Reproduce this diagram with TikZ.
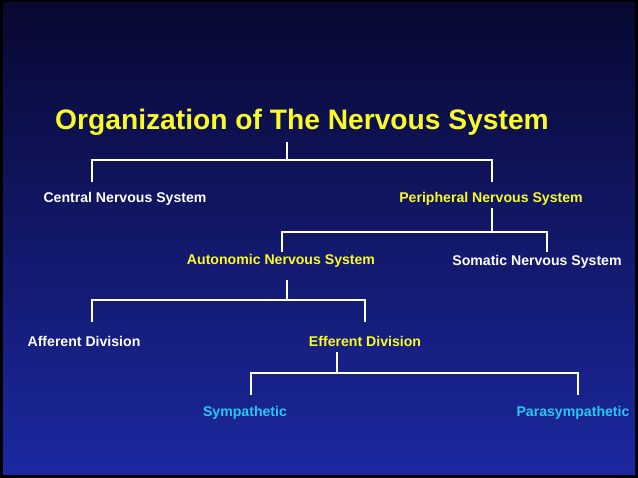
\documentclass[tikz,border=0pt]{standalone}
\usepackage{fontspec}
\setmainfont{Liberation Sans}
\definecolor{bgtop}{RGB}{8,8,50}
\definecolor{bgbot}{RGB}{28,40,160}
\definecolor{ylw}{RGB}{250,250,40}
\definecolor{cyn}{RGB}{40,200,240}
\begin{document}
\begin{tikzpicture}[x=1pt,y=-1pt,
  conn/.style={draw=white,line width=2pt},
  lbl/.style={font=\fontsize{14.1}{16}\selectfont\bfseries,inner sep=0pt},
  wl/.style={lbl,text=white},
  yl/.style={lbl,text=ylw},
  cl/.style={lbl,text=cyn}]
\useasboundingbox (0,0) rectangle (638,478);
\fill[black] (0,0) rectangle (638,478);
\shade[top color=bgtop,bottom color=bgbot] (3,3) rectangle (635,475);
\node[inner sep=0pt,text=ylw,font=\fontsize{28.2}{32}\selectfont\bfseries] (title) at (302,122) {Organization of The Nervous System};
\node[wl] (cns) at (125,199) {Central Nervous System};
\node[yl] (pns) at (491,199) {Peripheral Nervous System};
\node[yl] (ans) at (281,261) {Autonomic Nervous System};
\node[wl] (sns) at (537,262) {Somatic Nervous System};
\node[wl] (aff) at (84,341) {Afferent Division};
\node[yl] (eff) at (365,341) {Efferent Division};
\node[cl] (sym) at (245,413) {Sympathetic};
\node[cl] (par) at (573,413) {Parasympathetic};
\coordinate (t1) at (287,142);
\draw[conn] (t1) -- (287,160) (92,182) -- (92,160) -- (492,160) -- (492,182);
\coordinate (t2) at (492,208);
\draw[conn] (t2) -- (492,232) (282,252) -- (282,232) -- (547,232) -- (547,252);
\coordinate (t3) at (287,280);
\draw[conn] (t3) -- (287,300) (92,322) -- (92,300) -- (365,300) -- (365,322);
\coordinate (t4) at (337,352);
\draw[conn] (t4) -- (337,373) (251,395) -- (251,373) -- (578,373) -- (578,395);
\end{tikzpicture}
\end{document}
